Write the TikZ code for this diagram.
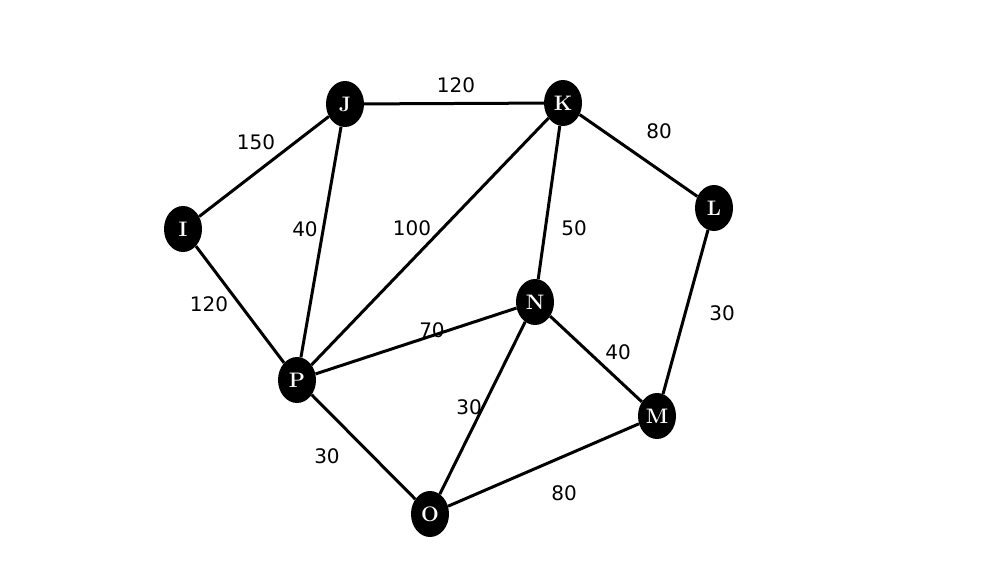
\documentclass[tikz,border=0pt]{standalone}
\usepackage{fontspec}
\setsansfont{DejaVu Sans}
\usetikzlibrary{shapes.geometric}
\begin{document}
\begin{tikzpicture}[x=1pt,y=-1pt,
 vert/.style={ellipse,fill=black,text=white,minimum width=38pt,minimum height=46pt,inner sep=0pt,font=\fontsize{21}{23}\selectfont\bfseries},
 edge/.style={line width=3pt},
 lab/.style={font=\sffamily\fontsize{20}{22}\selectfont}]
\useasboundingbox (0,0) rectangle (1002,570);
\node[vert] (J) at (345,104) {J};
\node[vert] (K) at (563,103) {K};
\node[vert] (I) at (183,229) {I};
\node[vert] (L) at (714,208) {L};
\node[vert] (N) at (535,302) {N};
\node[vert] (P) at (297,380) {P};
\node[vert] (M) at (657,416) {M};
\node[vert] (O) at (430,514) {O};
\draw[edge] (J)--(K); \draw[edge] (I)--(J); \draw[edge] (K)--(L);
\draw[edge] (J)--(P); \draw[edge] (K)--(P); \draw[edge] (K)--(N);
\draw[edge] (I)--(P); \draw[edge] (L)--(M); \draw[edge] (P)--(N);
\draw[edge] (N)--(M); \draw[edge] (N)--(O); \draw[edge] (P)--(O);
\draw[edge] (O)--(M);
\node[lab] (l1) at (456,85) {120};
\node[lab] (l2) at (256,142) {150};
\node[lab] (l3) at (659,131) {80};
\node[lab] (l4) at (305,229) {40};
\node[lab] (l5) at (412,228) {100};
\node[lab] (l6) at (574,228) {50};
\node[lab] (l7) at (209,304) {120};
\node[lab] (l8) at (722,313) {30};
\node[lab] (l9) at (432,330) {70};
\node[lab] (l10) at (618,352) {40};
\node[lab] (l11) at (469,407) {30};
\node[lab] (l12) at (327,456) {30};
\node[lab] (l13) at (564,493) {80};
\end{tikzpicture}
\end{document}
